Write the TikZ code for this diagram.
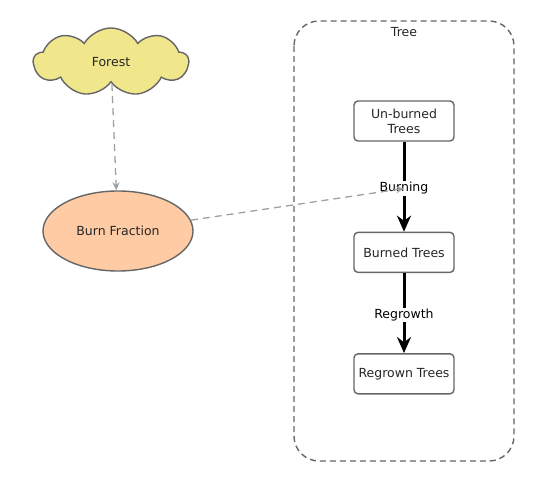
\documentclass[tikz,border=0pt]{standalone}
\usepackage{fontspec}
\setmainfont{DejaVu Sans}
\usetikzlibrary{shapes.geometric, shapes.symbols, arrows.meta, positioning}
\definecolor{edgegray}{HTML}{666666}
\definecolor{dashgray}{HTML}{A0A0A0}
\definecolor{forestfill}{HTML}{F0E68C}
\definecolor{fractionfill}{HTML}{FFCBA4}
\tikzset{
  stock/.style = {rectangle, draw=edgegray, line width=1.4pt, rounded corners=4pt, fill=white, minimum height=40pt, minimum width=100pt, inner xsep=1pt, inner ysep=1pt, align=center, font=\fontsize{12.5}{15}\selectfont, text=black!85},
  source/.style = {cloud, cloud puffs=9, cloud puff arc=120, aspect=2.3, draw=edgegray, line width=1.4pt, fill=forestfill, minimum width=155pt, minimum height=68pt, font=\fontsize{12.5}{14}\selectfont, text=black!85, inner sep=0pt},
  param/.style = {ellipse, draw=edgegray, line width=1.4pt, fill=fractionfill, minimum width=150pt, minimum height=80pt, font=\fontsize{12.5}{14}\selectfont, text=black!85, inner sep=0pt},
  flow/.style = {-{Stealth[length=16pt, width=14pt]}, line width=3pt},
  link/.style = {-{Stealth[length=8pt, width=7pt]}, dashgray, line width=1.3pt, dash pattern=on 7pt off 5pt},
  flowlabel/.style = {fill=white, inner sep=1pt, font=\fontsize{12.5}{14}\selectfont}
}
\begin{document}
\begin{tikzpicture}[x=1pt, y=-1pt]
\useasboundingbox (0,0) rectangle (539,484);

% container
\draw[edgegray, line width=1.4pt, dash pattern=on 6pt off 4pt, rounded corners=25pt] (294,21) rectangle (514,461);
\node[font=\fontsize{12.5}{14}\selectfont, text=black!85] (treelabel) at (404,32) {Tree};

\node[source] (forest) at (111,62) {Forest};
\node[param] (fraction) at (118,231) {Burn Fraction};

\node[stock] (unburned) at (404,121) {Un-burned\\Trees};
\node[stock, below=90pt of unburned] (burned) {Burned Trees};
\node[stock, below=80pt of burned] (regrown) {Regrown Trees};

\draw[flow] (unburned) -- node[flowlabel, pos=0.52] (burning) {Burning} (burned);
\draw[flow] (burned) -- node[flowlabel, pos=0.52] (regrowth) {Regrowth} (regrown);

\draw[link] (forest) -- (fraction);
\draw[link] (fraction) -- (burning.center);

\end{tikzpicture}
\end{document}
